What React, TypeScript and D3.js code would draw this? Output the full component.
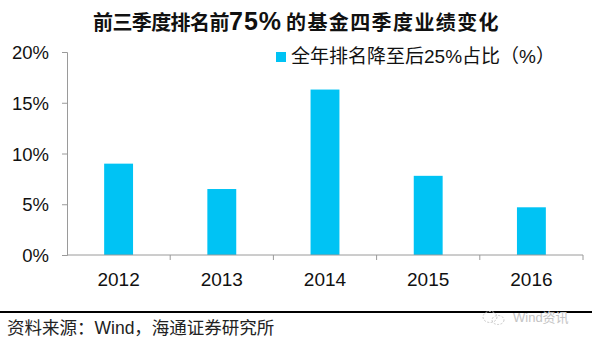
import React, { useEffect, useRef } from "react";
import * as d3 from "d3";

const years = ["2012", "2013", "2014", "2015", "2016"];
const shareDropped = [9.0, 6.5, 16.3, 7.8, 4.7];
const yTicks = [0, 5, 10, 15, 20];

const titleParts = ["前三季度排名前", "75%", "的基金四季度业绩变化"];
const legendLabel = "全年排名降至后25%占比（%）";
const sourceNote = "资料来源：Wind，海通证券研究所";

const W = 592;
const H = 343;
const plot = { left: 67, right: 583, top: 52, bottom: 255 };
const font = "'Liberation Sans', Arial, 'Noto Sans CJK SC', sans-serif";
const barColor = "#00c3f4";
const axisColor = "#9a9a9a";

const App = () => {
  const ref = useRef<SVGSVGElement>(null);

  useEffect(() => {
    const svg = d3.select(ref.current);
    svg.selectAll("*").remove();

    const x = d3.scaleBand().domain(years).range([plot.left, plot.right]);
    const y = d3.scaleLinear().domain([0, 20]).range([plot.bottom, plot.top]);

    // title: CJK runs and the bold latin run are set separately
    const t = svg
      .append("text")
      .attr("y", 30)
      .style("font-family", font)
      .style("font-weight", "bold")
      .style("fill", "#111");
    t.append("tspan")
      .attr("x", 93)
      .style("font-size", "20px")
      .style("letter-spacing", "-0.6px")
      .text(titleParts[0]);
    t.append("tspan")
      .attr("x", 229)
      .style("font-size", "25px")
      .style("letter-spacing", "1px")
      .text(titleParts[1]);
    t.append("tspan")
      .attr("x", 286)
      .style("font-size", "20px")
      .style("letter-spacing", "1.4px")
      .text(titleParts[2]);

    // bars
    const barW = x.bandwidth() * 0.28;
    svg
      .append("g")
      .selectAll("rect")
      .data(shareDropped)
      .join("rect")
      .attr("x", (d, i) => x(years[i])! + (x.bandwidth() - barW) / 2)
      .attr("y", (d) => y(d))
      .attr("width", barW)
      .attr("height", (d) => plot.bottom - y(d))
      .style("fill", barColor);

    // y axis
    const yAxis = d3
      .axisLeft(y)
      .tickValues(yTicks)
      .tickSize(5)
      .tickPadding(13)
      .tickFormat((d) => `${d}%`);
    const gy = svg
      .append("g")
      .attr("transform", `translate(${plot.left},0)`)
      .call(yAxis);
    gy.select(".domain").attr("stroke", axisColor);
    gy.selectAll(".tick line").attr("stroke", axisColor);
    gy.selectAll(".tick text")
      .attr("dy", "0.36em")
      .style("font-family", font)
      .style("font-size", "18.5px")
      .style("fill", "#111");

    // x axis, ticks sit on band edges
    const gx = svg.append("g").attr("transform", `translate(0,${plot.bottom})`);
    gx.append("line")
      .attr("x1", plot.left)
      .attr("x2", plot.right)
      .attr("stroke", axisColor);
    gx.selectAll("line.edge")
      .data(years)
      .join("line")
      .attr("class", "edge")
      .attr("x1", (d, i) => plot.left + x.bandwidth() * (i + 1))
      .attr("x2", (d, i) => plot.left + x.bandwidth() * (i + 1))
      .attr("y1", 0)
      .attr("y2", 5)
      .attr("stroke", axisColor);
    gx.selectAll("text")
      .data(years)
      .join("text")
      .attr("x", (d) => x(d)! + x.bandwidth() / 2)
      .attr("y", 31)
      .attr("text-anchor", "middle")
      .style("font-family", font)
      .style("font-size", "19px")
      .style("fill", "#111")
      .text((d) => d);

    // legend
    svg
      .append("rect")
      .attr("x", 276)
      .attr("y", 52)
      .attr("width", 10)
      .attr("height", 10)
      .style("fill", barColor);
    svg
      .append("text")
      .attr("x", 291)
      .attr("y", 63)
      .style("font-family", font)
      .style("font-size", "19px")
      .style("fill", "#111")
      .text(legendLabel);

    // footer rule and source
    svg
      .append("line")
      .attr("x1", 0)
      .attr("x2", W)
      .attr("y1", 312)
      .attr("y2", 312)
      .attr("stroke", "#000")
      .attr("stroke-width", 2);
    svg
      .append("text")
      .attr("x", 7)
      .attr("y", 334)
      .style("font-family", font)
      .style("font-size", "17.5px")
      .style("fill", "#222")
      .text(sourceNote);

    // watermark
    const wm = svg.append("g").attr("transform", "translate(482,312)");
    wm.append("ellipse")
      .attr("cx", 8)
      .attr("cy", 5)
      .attr("rx", 7)
      .attr("ry", 5.5)
      .attr("fill", "none")
      .attr("stroke", "#c8c8c8")
      .attr("stroke-dasharray", "2,1.5");
    wm.append("ellipse")
      .attr("cx", 16)
      .attr("cy", 8)
      .attr("rx", 6)
      .attr("ry", 4.5)
      .attr("fill", "none")
      .attr("stroke", "#c8c8c8")
      .attr("stroke-dasharray", "2,1.5");
    wm.append("text")
      .attr("x", 31)
      .attr("y", 10)
      .style("font-family", font)
      .style("font-size", "13px")
      .style("fill", "#c4c4c4")
      .text("Wind资讯");
  }, []);

  return (
    <svg
      ref={ref}
      width={W}
      height={H}
      style={{ position: "absolute", left: 0, top: 0, background: "#fff" }}
    />
  );
};

export default App;
